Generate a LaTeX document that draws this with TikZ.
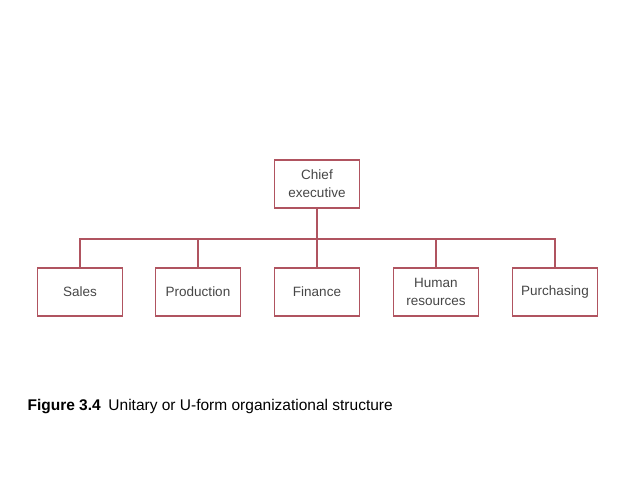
\documentclass[tikz,border=0pt]{standalone}
\usepackage{fontspec}
\setmainfont{Liberation Sans}
\usetikzlibrary{positioning}
\definecolor{boxred}{RGB}{176,84,96}
\definecolor{boxtext}{RGB}{70,70,70}

\begin{document}
\begin{tikzpicture}[x=1pt,y=-1pt,
    unit/.style={draw=boxred, line width=1.3pt, minimum width=85pt, minimum height=48pt,
                 align=center, font=\fontsize{13.5}{18}\selectfont, text=boxtext},
    link/.style={draw=boxred, line width=2pt}]
  \useasboundingbox (0,0) rectangle (638,479);

  \node[unit] (chief) at (317,184) {Chief\\executive};

  \node[unit] (sales) at (80,292) {Sales};
  \node[unit] (prod) at (198,292) {Production};
  \node[unit] (fin) at (317,292) {Finance};
  \node[unit] (hr) at (436,292) {Human\\resources};
  \node[unit] (purch) at (555,292) {Purchasing};

  \coordinate (bus) at (317,239);
  \draw[link] (chief.south) -- (fin.north);
  \foreach \n in {sales,prod,hr,purch}
    \draw[link] (\n.north) |- (bus);

  \node[anchor=west, font=\fontsize{15.5}{18}\selectfont] (caption) at (24,407)
    {\textbf{Figure 3.4}\hspace{0.5em}Unitary or U-form organizational structure};
\end{tikzpicture}
\end{document}
